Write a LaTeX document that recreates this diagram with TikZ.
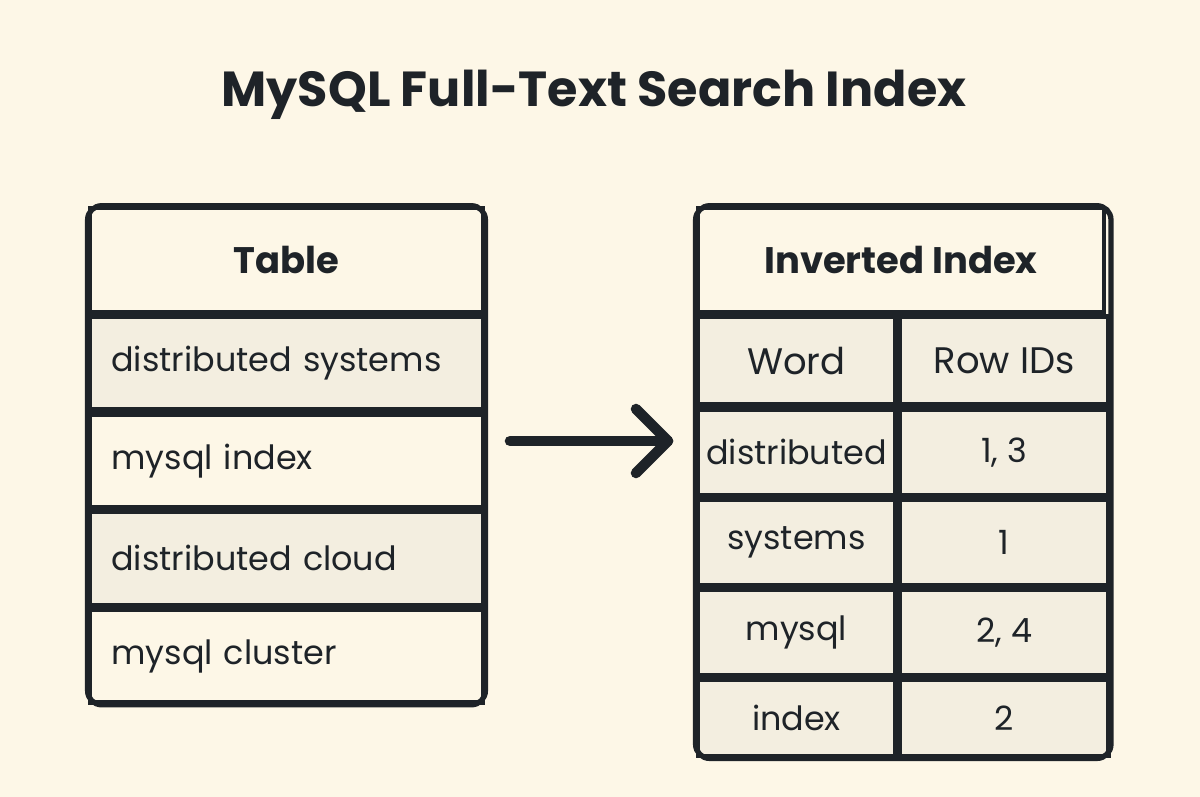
\documentclass[tikz,border=0pt]{standalone}
\usepackage{fontspec}
\setmainfont{Poppins}
\usetikzlibrary{positioning,calc}
\definecolor{bgcream}{HTML}{FDF7E7}
\definecolor{rowshade}{HTML}{F3EEE0}
\definecolor{inkdark}{HTML}{1E2328}
\tikzset{
    cell/.style={draw=inkdark, line width=1.3pt, minimum height=0.93cm, inner sep=0pt, font=\fontsize{9.5}{11}\selectfont, text=inkdark},
    headcell/.style={cell, minimum height=1.04cm, font=\fontsize{10.5}{12}\selectfont\bfseries},
}
\begin{document}
\begin{tikzpicture}[x=0.01cm, y=-0.01cm]

    \fill[bgcream] (0,0) rectangle (1200,797);
    \useasboundingbox (0,0) rectangle (1200,797);

    \node[text=inkdark, font=\fontsize{14}{16}\selectfont\bfseries] (title) at (594,95) {MySQL Full-Text Search Index};

    % left table
    \node[headcell, minimum width=3.93cm, fill=bgcream] (tbl) at (286.5,260) {Table};
    \node[cell, minimum width=3.93cm, fill=rowshade, text width=3.5cm, align=left, below=0pt of tbl] (r1) {distributed systems};
    \node[cell, minimum width=3.93cm, fill=bgcream, text width=3.5cm, align=left, below=0pt of r1] (r2) {mysql index};
    \node[cell, minimum width=3.93cm, fill=rowshade, text width=3.5cm, align=left, below=0pt of r2] (r3) {distributed cloud};
    \node[cell, minimum width=3.93cm, fill=bgcream, text width=3.5cm, align=left, below=0pt of r3] (r4) {mysql cluster};
    \draw[inkdark, line width=1.5pt, rounded corners=4pt] (tbl.north west) rectangle (r4.south east);

    % right table
    \node[headcell, minimum width=4.06cm, fill=bgcream] (inv) at (901,260) {Inverted Index};
    \node[headcell, minimum width=1.97cm, minimum height=0.88cm, fill=rowshade, font=\fontsize{10.5}{12}\selectfont, anchor=north west] (word) at (inv.south west) {Word};
    \node[headcell, minimum width=2.09cm, minimum height=0.88cm, fill=rowshade, font=\fontsize{10.5}{12}\selectfont, right=0pt of word] (ids) {Row IDs};
    \foreach \w/\r/\n/\p/\h in {distributed/{1, 3}/a/ids/0.86, systems/1/b/a/0.85, mysql/{2, 4}/c/b/0.86, index/2/d/c/0.76} {
        \node[cell, minimum width=2.09cm, minimum height=\h cm, fill=rowshade, below=0pt of \p] (\n) {\r};
        \node[cell, minimum width=1.97cm, minimum height=\h cm, fill=rowshade, left=0pt of \n] (w\n) {\w};
    }
    \draw[inkdark, line width=1.5pt, rounded corners=4pt] (inv.north west) rectangle (d.south east);

    % arrow
    \coordinate (arrs) at (510,441);
    \coordinate (arre) at (668,441);
    \draw[inkdark, line width=3pt, line cap=round] (arrs) -- (arre);
    \draw[inkdark, line width=3pt, line cap=round, line join=round] ($(arre)+(-32,-32)$) -- (arre) -- ($(arre)+(-32,32)$);
\end{tikzpicture}
\end{document}
